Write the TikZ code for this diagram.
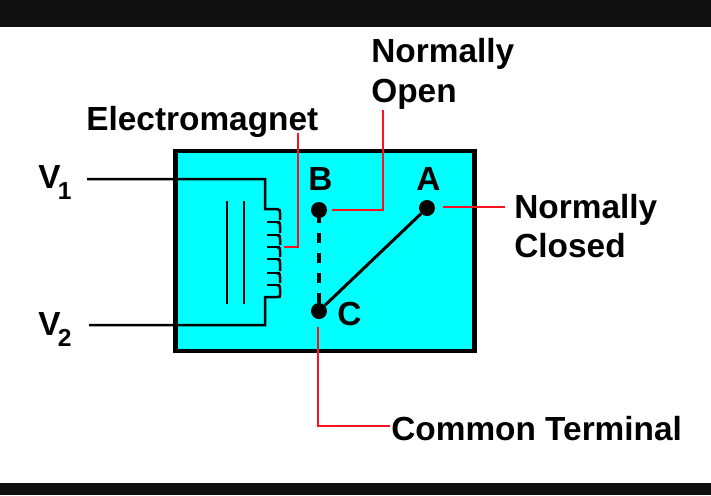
\documentclass[tikz,border=0pt]{standalone}
\usepackage{fontspec}
\setmainfont{Liberation Sans}
\usepackage{xcolor}
\definecolor{relaycyan}{HTML}{00FFFF}
\definecolor{barblack}{HTML}{0F0F0F}
\definecolor{leadred}{HTML}{FF1020}
\newcommand{\subV}[1]{V\kern-1.5pt\lower 6.8pt\hbox{\fontsize{14}{14}\selectfont #1}}
\tikzset{
  lbl/.style={inner sep=0pt, anchor=base west, font=\fontsize{19}{19}\selectfont\bfseries},
  pin/.style={circle, fill=black, draw=none, minimum size=0.32cm, inner sep=0pt},
  wire/.style={line width=0.05cm, black},
  lead/.style={line width=0.05cm, leadred}
}

\begin{document}
\begin{tikzpicture}[x=0.02cm, y=-0.02cm]
  % Variables
  \def \coilx {265}
  \def \toothx {280}

  \useasboundingbox (0,0) rectangle (711,495);

  % Bars
  \fill[barblack] (0,0) rectangle (711,27);
  \fill[barblack] (0,483) rectangle (711,495);

  % Relay box
  \node[rectangle, draw, fill=relaycyan, line width=0.09cm, minimum width=5.98cm, minimum height=4cm] (relay) at (325,251) {};

  % Labels
  \node[lbl] (magnetlabel) at (86,130) {Electromagnet};
  \node[lbl] (openlabel) at (371,62) {Normally};
  \node[lbl] (openlabelb) at (371,102) {Open};
  \node[lbl] (closedlabel) at (514,218) {Normally};
  \node[lbl] (closedlabelb) at (514,257) {Closed};
  \node[lbl] (commonlabel) at (391,440) {Common Terminal};
  \node[lbl] (vone) at (38,188) {\subV{1}};
  \node[lbl] (vtwo) at (38,335) {\subV{2}};
  \node[lbl] (labelb) at (308,190) {B};
  \node[lbl] (labela) at (416,190) {A};
  \node[lbl] (labelc) at (337,325) {C};

  % Terminals
  \node[pin] (termb) at (319,210) {};
  \node[pin] (terma) at (427,208) {};
  \node[pin] (termc) at (319,311) {};

  % Free ends
  \coordinate (vonewire) at (87,179);
  \coordinate (vtwowire) at (89,325);
  \coordinate (coiltop) at (\coilx,209);
  \coordinate (coilbot) at (\coilx,297);
  \coordinate (magnettop) at (298,133);
  \coordinate (magnetend) at (284,247);
  \coordinate (opentop) at (383,110);
  \coordinate (openend) at (332,210);
  \coordinate (closedstart) at (443,207);
  \coordinate (closedend) at (505,207);
  \coordinate (commontop) at (318,327);
  \coordinate (commonend) at (390,426);

  % Coil
  \draw[wire] (vonewire) -| (coiltop) -- (\toothx-3,209)
    \foreach \ya/\yb in {209/222, 222/235, 235/247, 247/259, 259/273, 273/285, 285/297} {
      (\toothx-3,\ya) .. controls (\toothx,\ya) and (\toothx,\ya+2) .. (\toothx,\ya+4) -- (\toothx,\yb-2)
    } (\toothx,295) .. controls (\toothx,297) .. (\toothx-3,297) -- (coilbot) |- (vtwowire);
  \foreach \y in {222, 235, 247, 259, 273, 285} {
    \draw[wire] (\coilx+2,\y) -- (\toothx,\y);
  }

  % Core
  \draw[wire] (227,201) -- (227,304);
  \draw[wire] (244,201) -- (244,304);

  % Contacts
  \draw[line width=0.09cm, dash pattern=on 0.2cm off 0.2cm, dash phase=0.1cm] (termb) -- (termc);
  \draw[line width=0.06cm] (termc) -- (terma);

  % Red leads
  \draw[lead] (magnettop) |- (magnetend);
  \draw[lead] (opentop) |- (openend);
  \draw[lead] (closedstart) -- (closedend);
  \draw[lead] (commontop) |- (commonend);

\end{tikzpicture}
\end{document}
